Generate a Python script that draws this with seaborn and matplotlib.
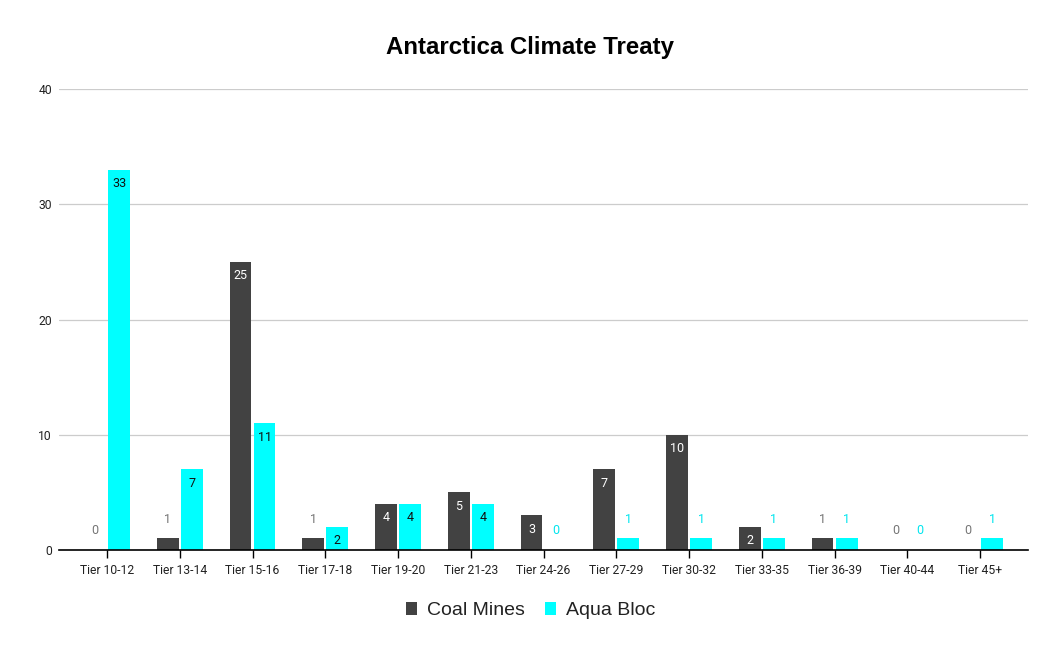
import matplotlib
matplotlib.use("Agg")
import matplotlib.pyplot as plt
import seaborn as sns
import pandas as pd
from matplotlib.patches import Patch

categories = ["Tier 10-12", "Tier 13-14", "Tier 15-16", "Tier 17-18", "Tier 19-20",
              "Tier 21-23", "Tier 24-26", "Tier 27-29", "Tier 30-32", "Tier 33-35",
              "Tier 36-39", "Tier 40-44", "Tier 45+"]
coal_mines = [0, 1, 25, 1, 4, 5, 3, 7, 10, 2, 1, 0, 0]
aqua_bloc = [33, 7, 11, 2, 4, 4, 0, 1, 1, 1, 1, 0, 1]
series_names = ["Coal Mines", "Aqua Bloc"]
colors = {"Coal Mines": "#424242", "Aqua Bloc": "#00ffff"}

df = pd.DataFrame({
    "category": categories * 2,
    "value": coal_mines + aqua_bloc,
    "series": [series_names[0]] * len(categories) + [series_names[1]] * len(categories),
})

sns.set_theme(style="white")
plt.rcParams["font.family"] = ["Roboto", "DejaVu Sans"]

fig = plt.figure(figsize=(10.61, 6.56), dpi=100)
ax = fig.add_axes([0.0556, 0.1616, 0.9134, 0.7027])

sns.barplot(data=df, x="category", y="value", hue="series", palette=colors,
            width=0.66, gap=0.09, ax=ax, legend=False, saturation=1, linewidth=0)

ax.set_ylim(0, 40)
ax.set_xlim(-0.66, 12.66)
ax.set_yticks([0, 10, 20, 30, 40])
ax.yaxis.grid(True, color="#cccccc", linewidth=0.9)
ax.set_axisbelow(True)
for s in ["top", "right", "left"]:
    ax.spines[s].set_visible(False)
ax.spines["bottom"].set_color("#000000")
ax.spines["bottom"].set_linewidth(1.2)
ax.tick_params(axis="x", which="both", bottom=True, length=6, width=1, color="#000000",
               labelsize=8.7, labelcolor="#222222", pad=4)
ax.tick_params(axis="y", left=False, length=0, labelsize=8.7, labelcolor="#222222", pad=5)
ax.set_xlabel("")
ax.set_ylabel("")

# data labels
for container, name in zip(ax.containers, series_names):
    for bar in container:
        h = bar.get_height()
        xc = bar.get_x() + bar.get_width() / 2
        if h >= 2:
            ax.annotate(f"{int(round(h))}", (xc, h), xytext=(0, -10), textcoords="offset points",
                        ha="center", va="center", fontsize=9,
                        color="white" if name == "Coal Mines" else "#111111")
        else:
            ax.annotate(f"{int(round(h))}", (xc, h), xytext=(0, 14), textcoords="offset points",
                        ha="center", va="center", fontsize=9,
                        color="#757575" if name == "Coal Mines" else "#00e5ee")

fig.suptitle("Antarctica Climate Treaty", x=0.5, y=0.945, fontsize=17.3, fontweight="bold",
             color="#000000", family=["Liberation Sans", "DejaVu Sans"])

handles = [Patch(facecolor=colors[n], edgecolor="none", label=n) for n in series_names]
fig.legend(handles=handles, loc="center", bbox_to_anchor=(0.5, 0.069), ncol=2, frameon=False,
           prop={"family": ["Liberation Sans", "DejaVu Sans"], "size": 14},
           handlelength=0.6, handleheight=0.6, handletextpad=0.5, columnspacing=1.0,
           labelcolor="#222222")

fig.savefig("out.png", dpi=100)
